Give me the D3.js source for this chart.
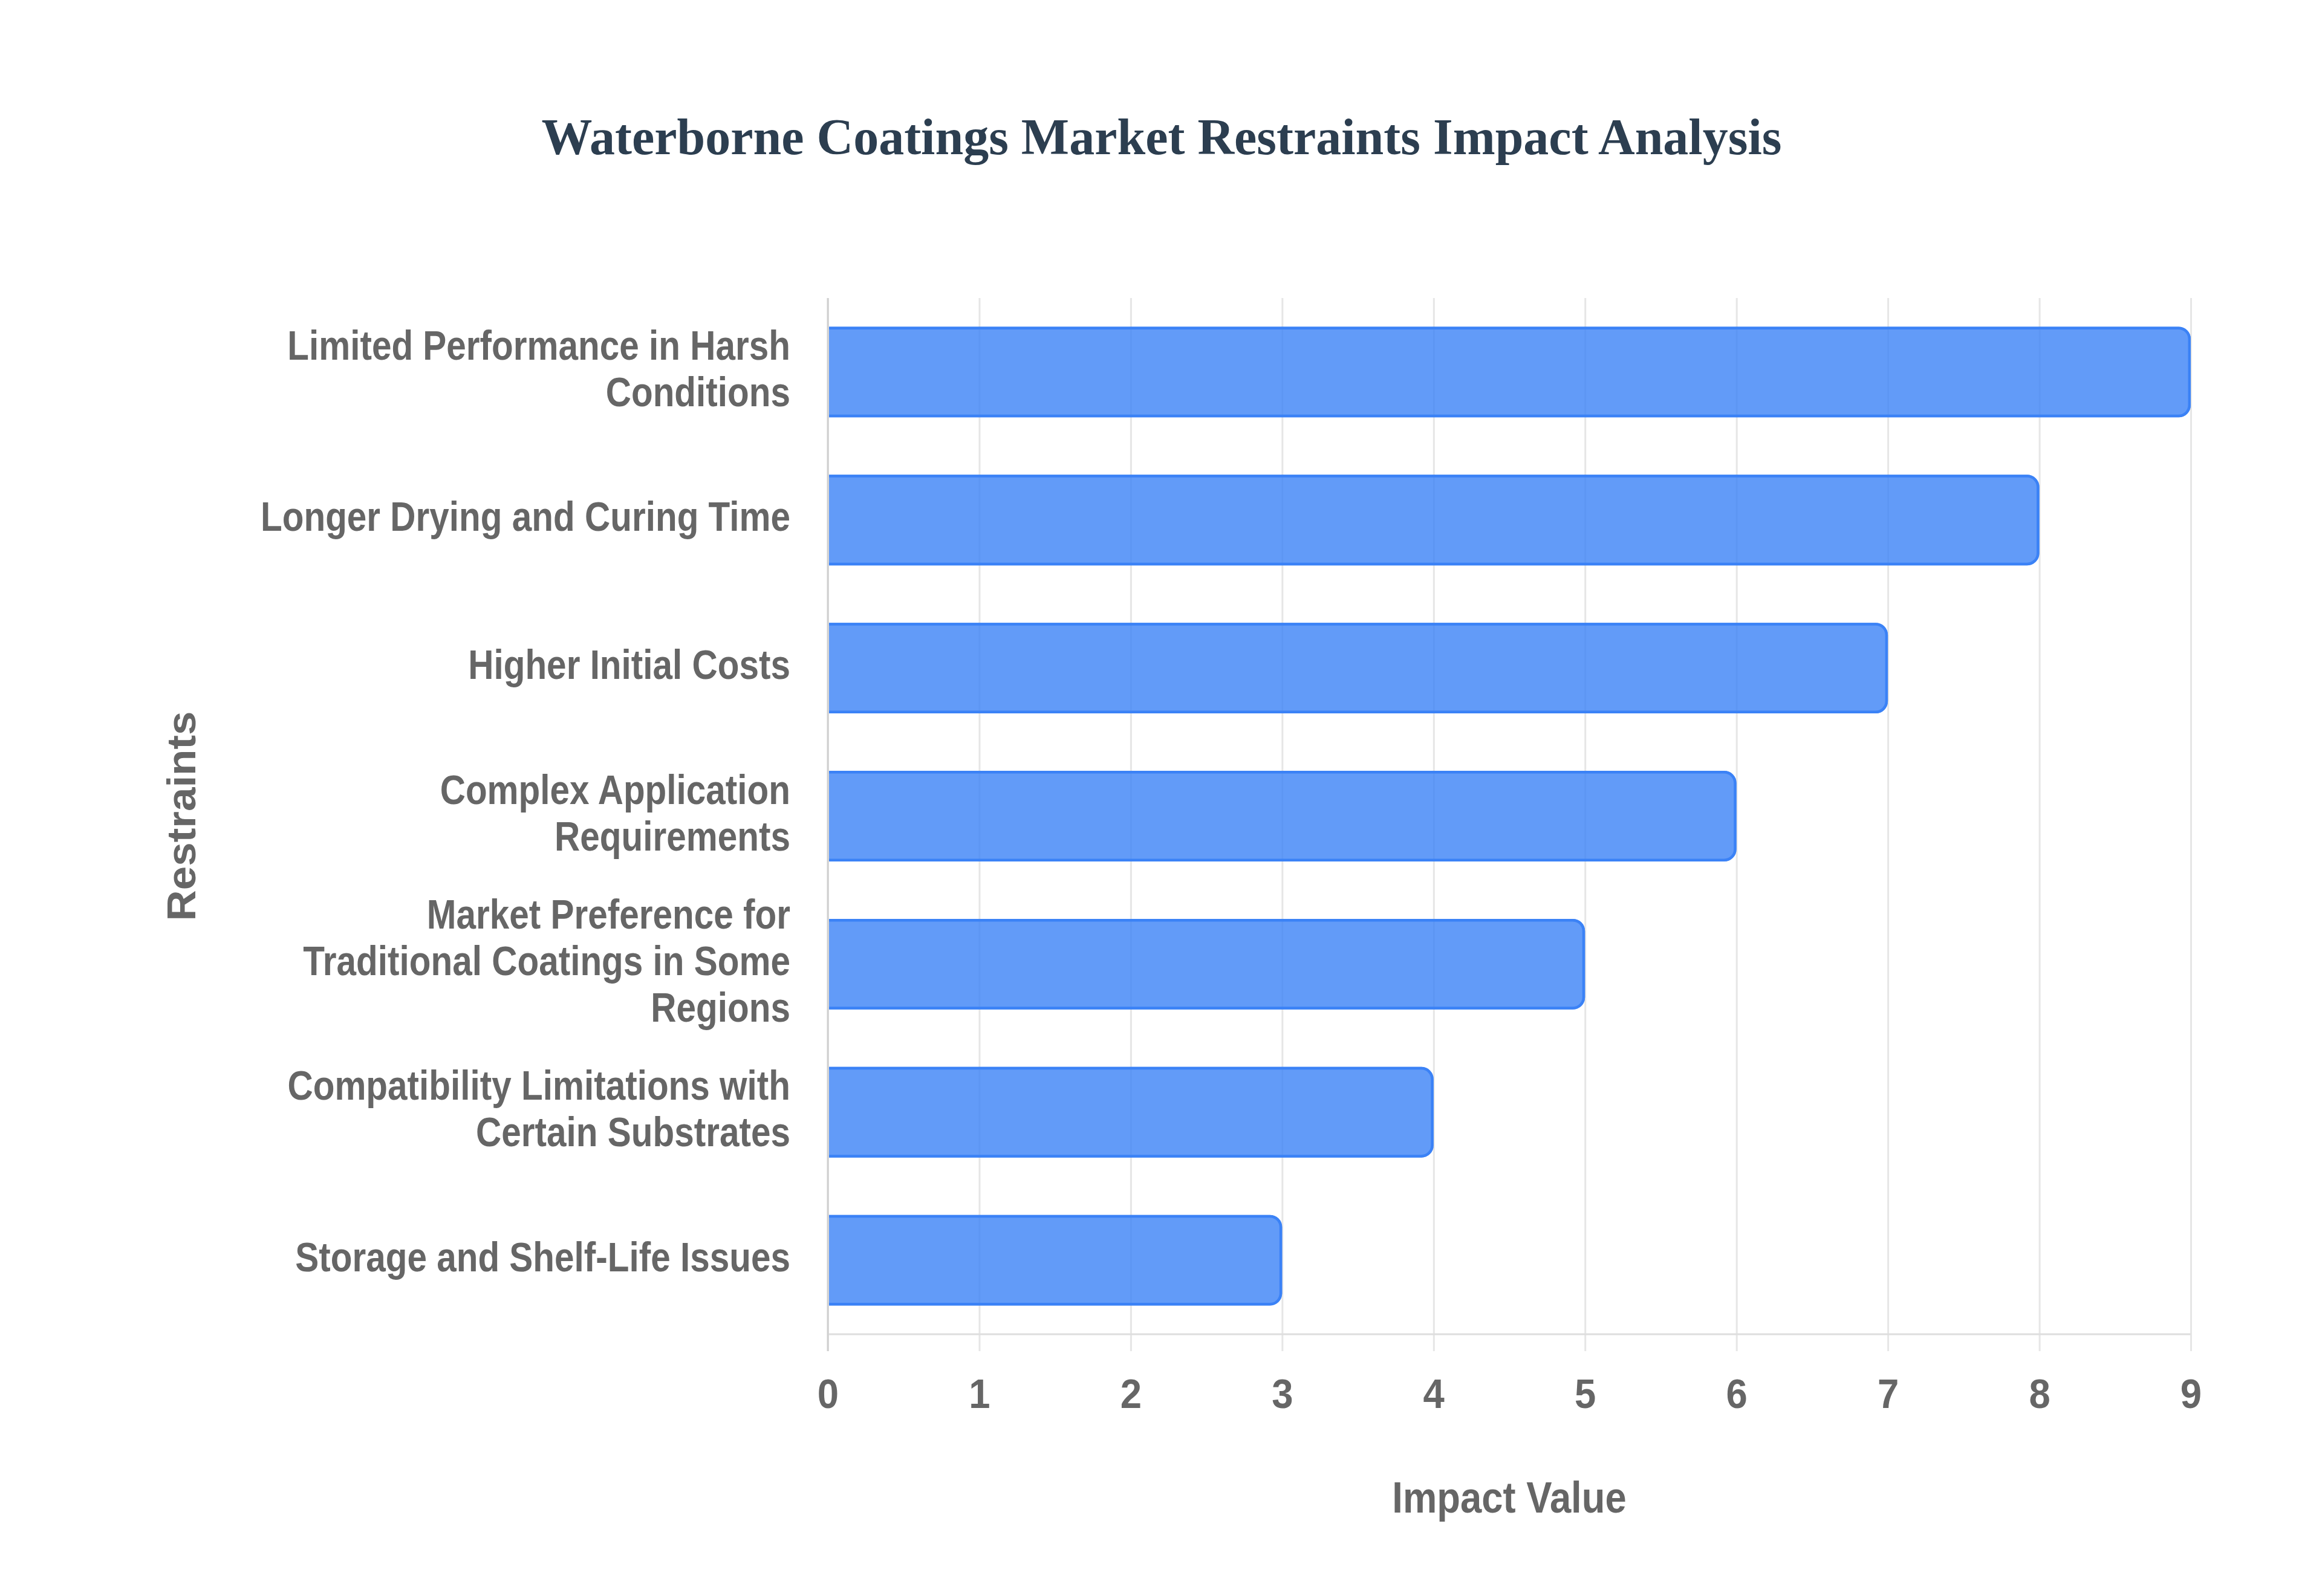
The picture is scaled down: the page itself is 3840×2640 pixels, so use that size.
<!DOCTYPE html>
<html>
<head>
<meta charset="utf-8">
<script src="https://cdn.jsdelivr.net/npm/d3@7"></script>
<style>
  body { margin: 0; background: #fff; }
</style>
</head>
<body>
<div class="chart"></div>
<script>
var categories = [
  "Limited Performance in Harsh Conditions",
  "Longer Drying and Curing Time",
  "Higher Initial Costs",
  "Complex Application Requirements",
  "Market Preference for Traditional Coatings in Some Regions",
  "Compatibility Limitations with Certain Substrates",
  "Storage and Shelf-Life Issues",
];
var values = [9, 8, 7, 6, 5, 4, 3];
var labelLines = [
  ["Limited Performance in Harsh", "Conditions"],
  ["Longer Drying and Curing Time"],
  ["Higher Initial Costs"],
  ["Complex Application", "Requirements"],
  ["Market Preference for", "Traditional Coatings in Some", "Regions"],
  ["Compatibility Limitations with", "Certain Substrates"],
  ["Storage and Shelf-Life Issues"],
];
var xTicks = [0, 1, 2, 3, 4, 5, 6, 7, 8, 9];

var width = 3840;
var height = 2640;
var plot = { left: 1369, right: 3623, top: 493, bottom: 2207 };
var sansFont = "'Liberation Sans', Arial, Helvetica, sans-serif";

var svg = d3
  .select(".chart")
  .append("svg")
  .attr("width", width)
  .attr("height", height);

svg.append("rect").attr("width", width).attr("height", height).attr("fill", "#fff");

// title
svg
  .append("text")
  .attr("x", 1921)
  .attr("y", 255)
  .attr("text-anchor", "middle")
  .attr("font-family", "'Liberation Serif', 'Times New Roman', serif")
  .attr("font-weight", "bold")
  .attr("font-size", 84)
  .attr("fill", "#2c3e50")
  .text("Waterborne Coatings Market Restraints Impact Analysis");

var xScale = d3.scaleLinear().domain([0, 9]).range([plot.left, plot.right]);

var yScale = d3
  .scaleBand()
  .domain(categories)
  .range([plot.top, plot.bottom])
  .paddingInner(0.388)
  .paddingOuter(0.194);

// vertical grid + ticks + labels
var tickBottom = plot.bottom + 28;
var xAxis = svg
  .append("g")
  .attr("transform", `translate(0, ${tickBottom})`)
  .call(
    d3
      .axisBottom(xScale)
      .tickValues(xTicks)
      .tickSizeInner(-(tickBottom - plot.top))
      .tickSizeOuter(0)
      .tickFormat(d3.format("d"))
  );
xAxis.select(".domain").remove();
xAxis.selectAll(".tick line").attr("stroke", "#e6e6e6").attr("stroke-width", 3);
xAxis
  .selectAll(".tick text")
  .attr("y", null)
  .attr("dy", null)
  .attr("transform", `translate(0, 94) scale(0.92, 1)`)
  .attr("font-family", sansFont)
  .attr("font-weight", "bold")
  .attr("font-size", 69)
  .attr("fill", "#666");

// axis lines
svg
  .append("line")
  .attr("x1", plot.left)
  .attr("x2", plot.right)
  .attr("y1", plot.bottom)
  .attr("y2", plot.bottom)
  .attr("stroke", "#dedede")
  .attr("stroke-width", 3);
svg
  .append("line")
  .attr("x1", plot.left)
  .attr("x2", plot.left)
  .attr("y1", plot.top)
  .attr("y2", tickBottom)
  .attr("stroke", "#d0d0d0")
  .attr("stroke-width", 3);

// bars, rounded on the value end only
function barPath(x0, x1, y0, y1, r, closed) {
  r = Math.min(r, (y1 - y0) / 2, x1 - x0);
  var p = `M${x0},${y0}H${x1 - r}A${r},${r} 0 0 1 ${x1},${y0 + r}V${y1 - r}A${r},${r} 0 0 1 ${x1 - r},${y1}H${x0}`;
  return closed ? p + "Z" : p;
}

var bw = 4.5;
var bars = svg.append("g");
bars
  .selectAll("path.fill")
  .data(categories)
  .enter()
  .append("path")
  .attr("class", "fill")
  .attr("d", (d, i) =>
    barPath(xScale(0) + 2, xScale(values[i]), yScale(d), yScale(d) + yScale.bandwidth(), 20, true)
  )
  .attr("fill", "rgba(59, 130, 246, 0.8)");
bars
  .selectAll("path.edge")
  .data(categories)
  .enter()
  .append("path")
  .attr("class", "edge")
  .attr("d", (d, i) =>
    barPath(
      xScale(0) + 2,
      xScale(values[i]) - bw / 2,
      yScale(d) + bw / 2,
      yScale(d) + yScale.bandwidth() - bw / 2,
      18,
      false
    )
  )
  .attr("fill", "none")
  .attr("stroke", "#3b82f6")
  .attr("stroke-width", bw);

// category labels
var yAxis = svg
  .append("g")
  .attr("transform", `translate(${plot.left}, 0)`)
  .call(d3.axisLeft(yScale).tickSize(0).tickFormat(""));
yAxis.select(".domain").remove();
yAxis.selectAll(".tick text").remove();
var lineHeight = 77;
yAxis
  .selectAll(".tick")
  .append("text")
  .attr("transform", `translate(-62, 0) scale(0.86, 1)`)
  .attr("text-anchor", "end")
  .attr("font-family", sansFont)
  .attr("font-weight", "bold")
  .attr("font-size", 68)
  .attr("fill", "#666")
  .each(function (d, i) {
    var lines = labelLines[i];
    var t = d3.select(this);
    lines.forEach(function (line, j) {
      t.append("tspan")
        .attr("x", 0)
        .attr("y", (j - (lines.length - 1) / 2) * lineHeight + 18)
        .text(line);
    });
  });

// axis titles
svg
  .append("text")
  .attr("transform", `translate(${(plot.left + plot.right) / 2}, 2502) scale(0.88, 1)`)
  .attr("text-anchor", "middle")
  .attr("font-family", sansFont)
  .attr("font-weight", "bold")
  .attr("font-size", 72)
  .attr("fill", "#666")
  .text("Impact Value");

svg
  .append("text")
  .attr("transform", `translate(323, ${(plot.top + plot.bottom) / 2}) rotate(-90) scale(1, 0.93)`)
  .attr("text-anchor", "middle")
  .attr("font-family", sansFont)
  .attr("font-weight", "bold")
  .attr("font-size", 71)
  .attr("fill", "#666")
  .text("Restraints");
</script>
</body>
</html>
